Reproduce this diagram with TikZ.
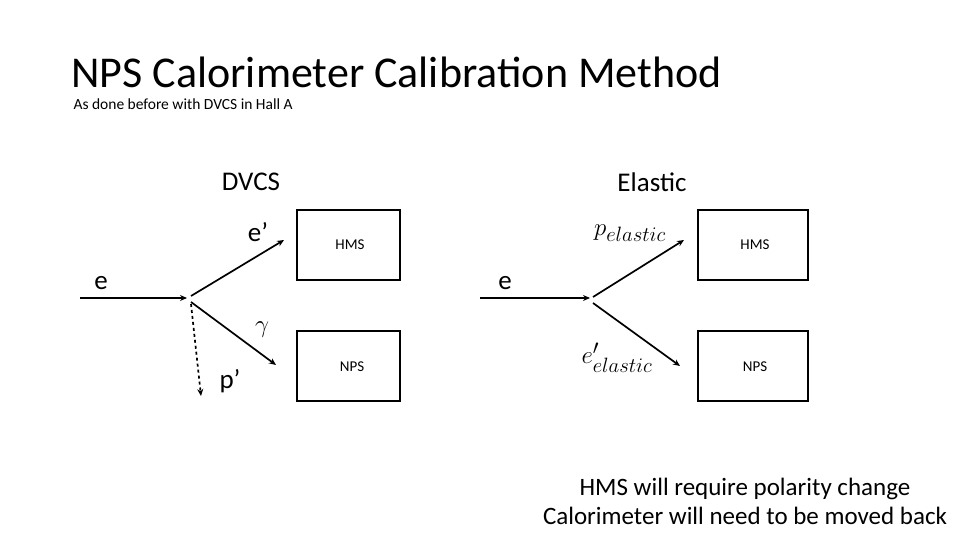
\documentclass[tikz,border=0pt]{standalone}
\usetikzlibrary{arrows.meta}
\usepackage{fontspec}
\setmainfont{Carlito}
\usepackage{amsmath}
\begin{document}
\begin{tikzpicture}[x=1pt,y=-1pt,
  arr/.style={line width=1.7pt,-{Stealth[length=7pt,width=6pt]}},
  box/.style={draw,line width=1.2pt,inner sep=0pt},
  lbl/.style={font=\fontsize{27}{29}\selectfont,anchor=center},
  small/.style={font=\fontsize{15}{17}\selectfont}]
\useasboundingbox (0,0) rectangle (960,540);
\node[anchor=west,font=\fontsize{44}{46}\selectfont] (title) at (68,72) {NPS Calorimeter Calibration Method};
\node[anchor=west,font=\fontsize{15.5}{17}\selectfont] (sub) at (70,104) {As done before with DVCS in Hall A};
\node[lbl] (dvcs) at (251,182) {DVCS};
\node[lbl] (elastic) at (652,182) {Elastic};
% left
\node[box,minimum width=103pt,minimum height=70pt] (hms1) at (348.5,245) {};
\node[small] (hms1t) at (350,245) {HMS};
\node[box,minimum width=103pt,minimum height=70pt] (nps1) at (348.5,366) {};
\node[small] (nps1t) at (352,367) {NPS};
\coordinate (s1) at (80,298);
\coordinate (a1) at (284,240);
\coordinate (b1) at (276,365);
\coordinate (c1) at (201,396);
\draw[arr] (s1) -- (187,298);
\draw[arr] (191,296) -- (a1);
\draw[arr] (191,302) -- (b1);
\draw[arr,dashed] (191,304) -- (c1);
\node[lbl] (e1) at (101,283) {e};
\node[lbl] (ep1) at (258,232) {e’};
\node[font=\fontsize{30}{32}\selectfont] (g1) at (262,330) {$\gamma$};
\node[lbl] (pp1) at (230,381) {p’};
% right
\node[box,minimum width=110pt,minimum height=70pt] (hms2) at (753,245) {};
\node[small] (hms2t) at (755,245) {HMS};
\node[box,minimum width=110pt,minimum height=70pt] (nps2) at (753,366) {};
\node[small] (nps2t) at (755,367) {NPS};
\coordinate (s2) at (480,298);
\coordinate (a2) at (684,240);
\coordinate (b2) at (680,366);
\draw[arr] (s2) -- (590,298);
\draw[arr] (593,297) -- (a2);
\draw[arr] (593,303) -- (b2);
\node[lbl] (e2) at (505,283) {e};
\node[font=\fontsize{32}{34}\selectfont] (pel) at (630,233) {$p_{elastic}$};
\node[font=\fontsize{32}{34}\selectfont] (eel) at (617,358) {$e'_{elastic}$};
\node[align=center,font=\fontsize{25}{29}\selectfont] (note) at (745,501) {HMS will require polarity change\\Calorimeter will need to be moved back};
\end{tikzpicture}
\end{document}
